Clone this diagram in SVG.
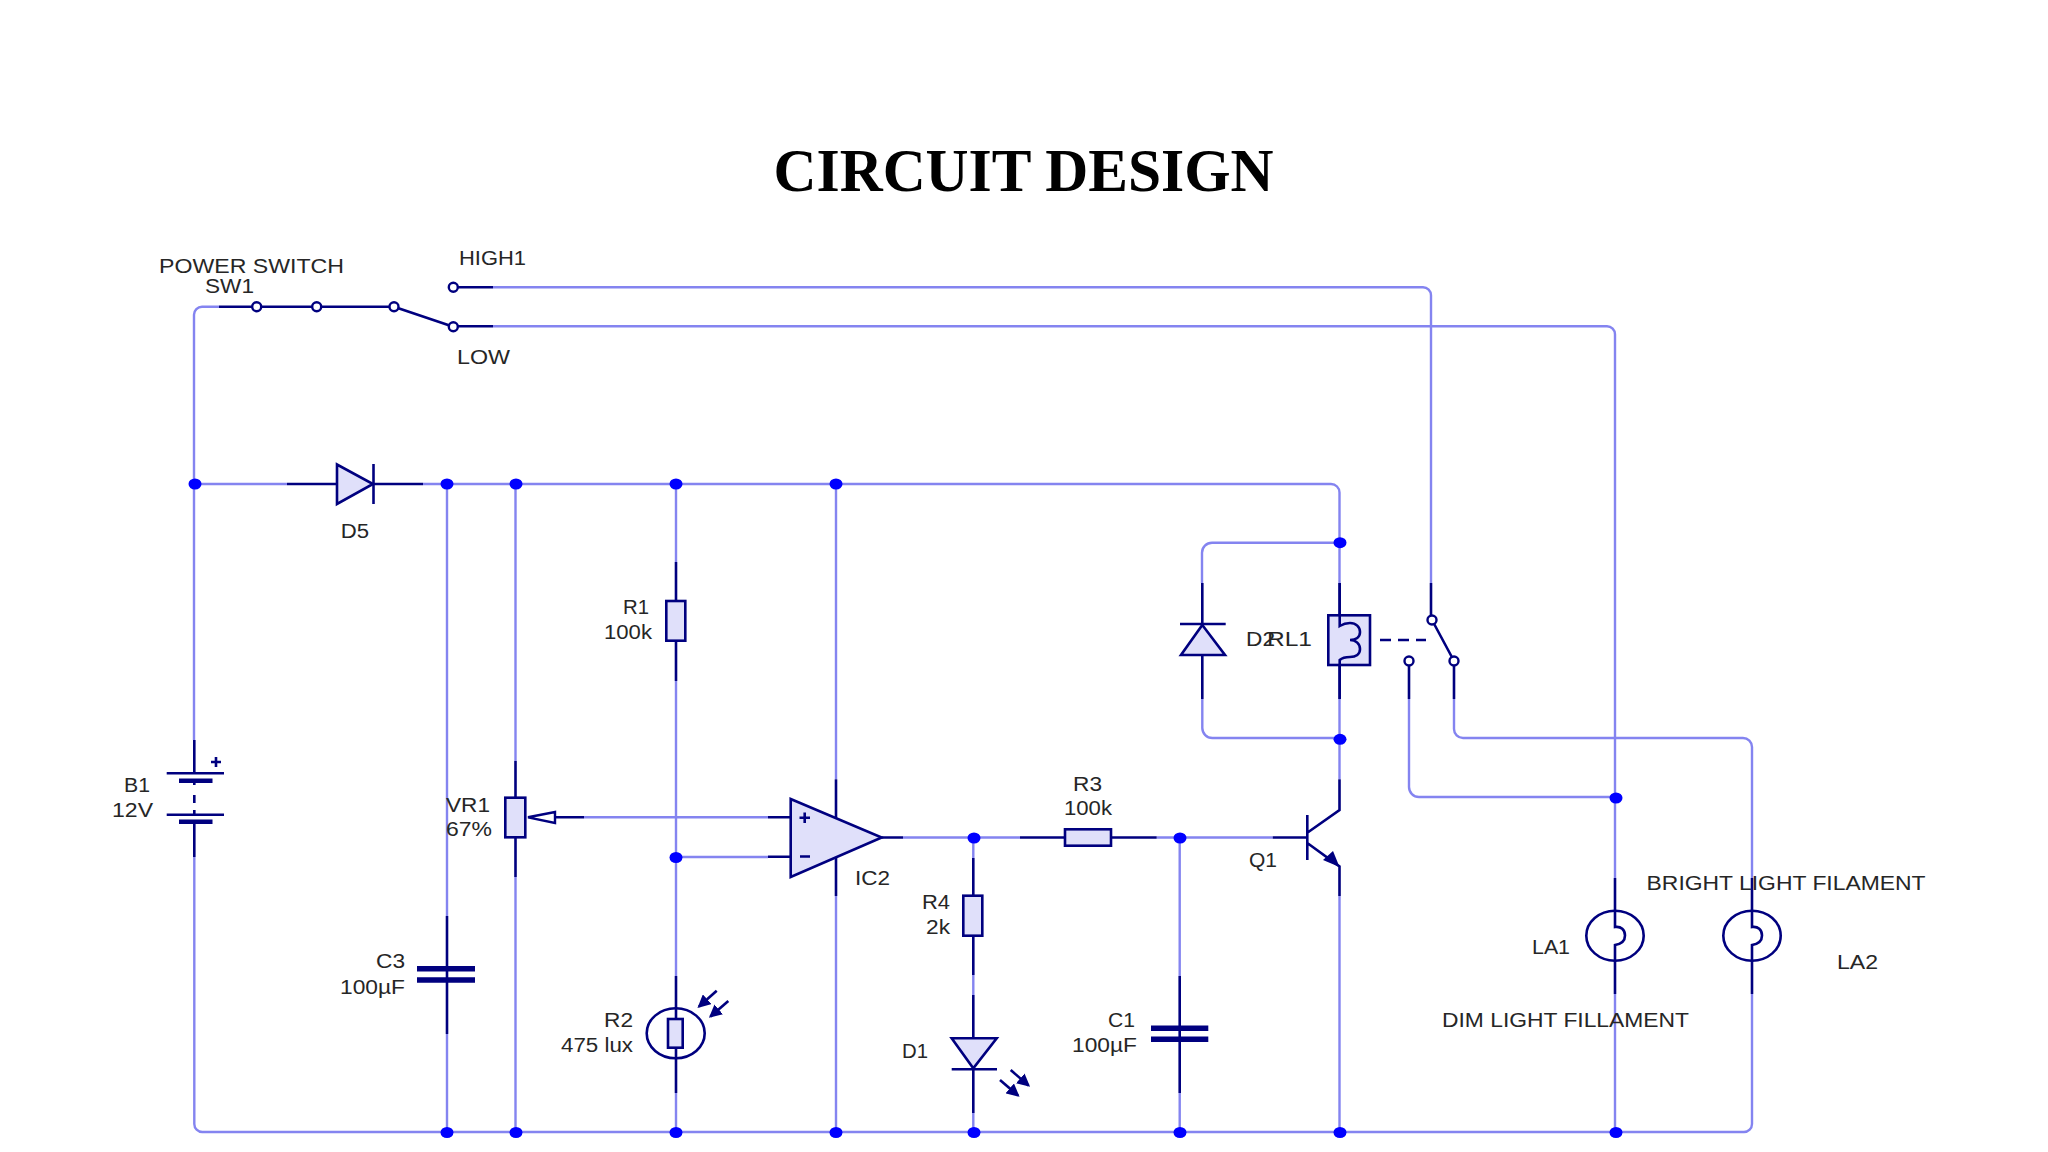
<svg xmlns="http://www.w3.org/2000/svg" width="2048" height="1152" viewBox="0 0 2048 1152">
<style>
.w{fill:none;stroke:#8484f0;stroke-width:2.4}
.d{fill:none;stroke:#00007f;stroke-width:2.6}
.b{fill:#e0e0fa;stroke:#00007f;stroke-width:2.6}
.t{fill:none;stroke:#00007f;stroke-width:5.5}
.o{fill:#fff;stroke:#00007f;stroke-width:2.4}
.a{fill:#00007f;stroke:none}
.j{fill:#0000ff;stroke:none}
text{font-family:"Liberation Sans",Arial,sans-serif;font-size:19.5px;fill:#262626}
.title{font-family:"Liberation Serif","Times New Roman",serif;font-size:61px;font-weight:bold;fill:#000}
</style>
<defs>
<ellipse id="jn" class="j" rx="6.5" ry="5.5"/>
<marker id="ah" markerWidth="5" markerHeight="5" refX="4.2" refY="2.5" orient="auto" markerUnits="strokeWidth"><path d="M0 0L5 2.5L0 5Z" fill="#00007f"/></marker>
</defs>
<rect width="2048" height="1152" fill="#fff"/>
<text class="title" x="773.500" y="191" textLength="500" lengthAdjust="spacingAndGlyphs">CIRCUIT DESIGN</text>

<g id="connectors">
<path class="w" d="M219 306.7H202a8 8 0 0 0-8 8V740M194.300 857V1124a8 8 0 0 0 8 8H1744a8 8 0 0 0 8-8V994"/>
<path class="w" d="M195 484H287M423 484H1331a8.500 8.500 0 0 1 8.500 8.500V583M1339.500 699V779"/>
<path class="w" d="M447 484V916M447 1034V1132M515.500 484V761M515.500 877V1132M676 484V562M676 681V976M676 1093V1132M836 484V779M836 896V1132"/>
<path class="w" d="M584 817.300H768M676 857H768M903 837.500H1020M1156.700 837.500H1272.700M973.300 837.500V858M973.300 975V995M973.300 1113V1132M1179.700 837.500V976M1179.700 1093V1132M1339.500 896V1132"/>
<path class="w" d="M1339.500 542.700H1212a10 10 0 0 0-10 10V583M1202.300 699V728a10 10 0 0 0 10 10H1339.500"/>
<path class="w" d="M493 287.300H1423a8 8 0 0 1 8 8V583M493 326.300H1607a8 8 0 0 1 8 8V878M1615 994V1132"/>
<path class="w" d="M1454 699V729a9 9 0 0 0 9 9H1743a9 9 0 0 1 9 9V878M1409 699V787a10 10 0 0 0 10 10H1615"/>
<g id="junctions">
<use href="#jn" x="195" y="484"/><use href="#jn" x="447" y="484"/><use href="#jn" x="516" y="484"/><use href="#jn" x="676" y="484"/><use href="#jn" x="836" y="484"/>
<use href="#jn" x="1340" y="542.700"/><use href="#jn" x="1340" y="739.300"/><use href="#jn" x="1616" y="798"/><use href="#jn" x="676" y="857.500"/><use href="#jn" x="974" y="838"/><use href="#jn" x="1180" y="838"/>
<use href="#jn" x="447" y="1132.500"/><use href="#jn" x="516" y="1132.500"/><use href="#jn" x="676" y="1132.500"/><use href="#jn" x="836" y="1132.500"/><use href="#jn" x="974" y="1132.500"/><use href="#jn" x="1180" y="1132.500"/><use href="#jn" x="1340" y="1132.500"/><use href="#jn" x="1616" y="1132.500"/>
</g>
</g>

<g id="SW1">
<path class="d" d="M219 306.700H394M394 306.700L453.300 326.700M453.300 287.300H493M453.300 326.300H493"/>
<circle class="o" cx="256.700" cy="306.700" r="4.500"/><circle class="o" cx="316.700" cy="306.700" r="4.500"/><circle class="o" cx="394" cy="306.700" r="4.500"/><circle class="o" cx="453.300" cy="287.300" r="4.500"/><circle class="o" cx="453.300" cy="326.700" r="4.500"/>
<text x="159" y="273" textLength="185" lengthAdjust="spacingAndGlyphs">POWER SWITCH</text>
<text x="205" y="293" textLength="49" lengthAdjust="spacingAndGlyphs">SW1</text>
<text x="459" y="265" textLength="67" lengthAdjust="spacingAndGlyphs">HIGH1</text>
<text x="457" y="364" textLength="53" lengthAdjust="spacingAndGlyphs">LOW</text>
</g>
<g id="D5">
<path class="d" d="M287 484H337M373 484H423"/>
<path class="b" d="M337 464.500V504L373 484Z"/>
<path class="d" d="M373.500 464V504"/>
<text x="340.700" y="537.700" textLength="28.300" lengthAdjust="spacingAndGlyphs">D5</text>
</g>
<g id="B1">
<path class="d" d="M194.300 740V773M194.300 780V785M194.300 795V803M194.300 810V815M194.300 822V857M166.700 773.300H224M166.700 814.700H224"/>
<path class="t" d="M179 780.700H212.500M179 821.700H212.500" style="stroke-width:4.500"/>
<path class="d" d="M211 762H221M216 757V767"/>
<text x="124" y="792" textLength="26" lengthAdjust="spacingAndGlyphs">B1</text>
<text x="112" y="817" textLength="41" lengthAdjust="spacingAndGlyphs">12V</text>
</g>
<g id="C3">
<path class="d" d="M447 916V1034"/>
<path class="t" d="M417 968.700H475M417 980H475"/>
<text x="376" y="968" textLength="29" lengthAdjust="spacingAndGlyphs">C3</text>
<text x="340" y="994" textLength="65" lengthAdjust="spacingAndGlyphs">100µF</text>
</g>
<g id="VR1">
<path class="d" d="M515.500 761V797M515.500 838V877M555 817.300H584"/>
<rect class="b" x="505.300" y="797.700" width="20" height="39.600"/>
<path class="o" d="M528 817.300L555 812V823Z"/>
<text x="446" y="812" textLength="44" lengthAdjust="spacingAndGlyphs">VR1</text>
<text x="446" y="836" textLength="46" lengthAdjust="spacingAndGlyphs">67%</text>
</g>
<g id="R1">
<path class="d" d="M676 562V601M676 641V681"/>
<rect class="b" x="666.300" y="601" width="19" height="39.700"/>
<text x="623" y="614" textLength="26" lengthAdjust="spacingAndGlyphs">R1</text>
<text x="604" y="639" textLength="48" lengthAdjust="spacingAndGlyphs">100k</text>
</g>
<g id="R2">
<path class="d" d="M676 976V1019M676 1048V1093"/>
<ellipse class="d" cx="675.700" cy="1033.300" rx="29" ry="25"/>
<rect class="b" x="668" y="1019" width="14.700" height="28.700"/>
<path class="d" marker-end="url(#ah)" d="M716.700 990.700L699 1006.500"/>
<path class="d" marker-end="url(#ah)" d="M728.300 1001L710.500 1016.500"/>
<text x="604" y="1027" textLength="29" lengthAdjust="spacingAndGlyphs">R2</text>
<text x="561" y="1052" textLength="72" lengthAdjust="spacingAndGlyphs">475 lux</text>
</g>
<g id="IC2">
<path class="d" d="M768 817.300H790.700M768 856.700H790.700M836 779.300V818M836 857V896M881.700 837.500H903"/>
<path class="b" d="M790.700 799V877L881.700 837.500Z"/>
<path class="d" d="M799.500 817.700H810M804.700 812.500V823M800 856.500H810"/>
<text x="855" y="885" textLength="35" lengthAdjust="spacingAndGlyphs">IC2</text>
</g>
<g id="R3">
<path class="d" d="M1020 837.500H1065M1111 837.500H1156.700"/>
<rect class="b" x="1065" y="829.300" width="46" height="16.400"/>
<text x="1073" y="791" textLength="29" lengthAdjust="spacingAndGlyphs">R3</text>
<text x="1064" y="815" textLength="48" lengthAdjust="spacingAndGlyphs">100k</text>
</g>
<g id="R4">
<path class="d" d="M973.300 858V896M973.300 936V975"/>
<rect class="b" x="963.300" y="895.700" width="19" height="40"/>
<text x="922" y="909" textLength="28" lengthAdjust="spacingAndGlyphs">R4</text>
<text x="926" y="934" textLength="24" lengthAdjust="spacingAndGlyphs">2k</text>
</g>
<g id="D1">
<path class="d" d="M973.300 995V1038M973.300 1069V1113"/>
<path class="b" d="M951.700 1038.300H996.700L973.300 1068.300Z"/>
<path class="d" d="M951.700 1069.300H997"/>
<path class="d" marker-end="url(#ah)" d="M1010.700 1070L1028.500 1085.500"/>
<path class="d" marker-end="url(#ah)" d="M1000 1080L1018 1095.500"/>
<text x="902" y="1058" textLength="26" lengthAdjust="spacingAndGlyphs">D1</text>
</g>
<g id="C1">
<path class="d" d="M1179.700 976V1093"/>
<path class="t" d="M1151 1028.300H1208.300M1151 1039.300H1208.300"/>
<text x="1108" y="1027" textLength="27" lengthAdjust="spacingAndGlyphs">C1</text>
<text x="1072" y="1052" textLength="65" lengthAdjust="spacingAndGlyphs">100µF</text>
</g>
<g id="Q1">
<path class="d" d="M1272.700 837.500H1307.300M1307.300 815V860M1339.500 779.300V810L1307.300 832.700M1307.300 843L1339.500 866.500V896"/>
<path class="a" d="M1339.500 867L1323 860L1333 851Z"/>
<text x="1249" y="867" textLength="28" lengthAdjust="spacingAndGlyphs">Q1</text>
</g>
<g id="D2">
<path class="d" d="M1202.300 583V624M1202.300 655V699M1180 624H1225.700"/>
<path class="b" d="M1202.300 625L1225 655H1181Z"/>
<text x="1246" y="646" textLength="29" lengthAdjust="spacingAndGlyphs">D2</text>
</g>
<g id="RL1">
<path class="d" d="M1339.700 583V615M1339.700 665V699"/>
<rect class="b" x="1328.300" y="615.300" width="41.700" height="49.700"/>
<path class="d" d="M1339.700 583V626C1343 624 1346 623 1350 623C1356 623 1360 627 1360 632C1360 637 1356 640 1350 640C1356 640 1360 644 1360 649C1360 654 1356 657 1350 657C1346 657 1343 657 1339.700 660V699"/>
<path class="d" stroke-dasharray="11 7" d="M1380 640H1426"/>
<path class="d" d="M1431 583V616M1432 620L1454 661M1454 661V699M1409 661V699"/>
<circle class="o" cx="1432" cy="620" r="4.500"/><circle class="o" cx="1454" cy="661" r="4.500"/><circle class="o" cx="1409" cy="661" r="4.500"/>
<text x="1267" y="646" textLength="45" lengthAdjust="spacingAndGlyphs">RL1</text>
</g>
<g id="LA1">
<ellipse class="d" cx="1615" cy="935.700" rx="28.700" ry="25"/>
<path class="d" d="M1615 878V927C1621 926 1625 930 1625 935.500C1625 941 1621 944 1615 945V994"/>
<text x="1532" y="954" textLength="38" lengthAdjust="spacingAndGlyphs">LA1</text>
<text x="1442" y="1027" textLength="247" lengthAdjust="spacingAndGlyphs">DIM LIGHT FILLAMENT</text>
</g>
<g id="LA2">
<ellipse class="d" cx="1752" cy="935.700" rx="28.700" ry="25"/>
<path class="d" d="M1752 878V927C1758 926 1762 930 1762 935.500C1762 941 1758 944 1752 945V994"/>
<text x="1837" y="969" textLength="41" lengthAdjust="spacingAndGlyphs">LA2</text>
<text x="1646.600" y="890" textLength="279" lengthAdjust="spacingAndGlyphs">BRIGHT LIGHT FILAMENT</text>
</g>
</svg>
